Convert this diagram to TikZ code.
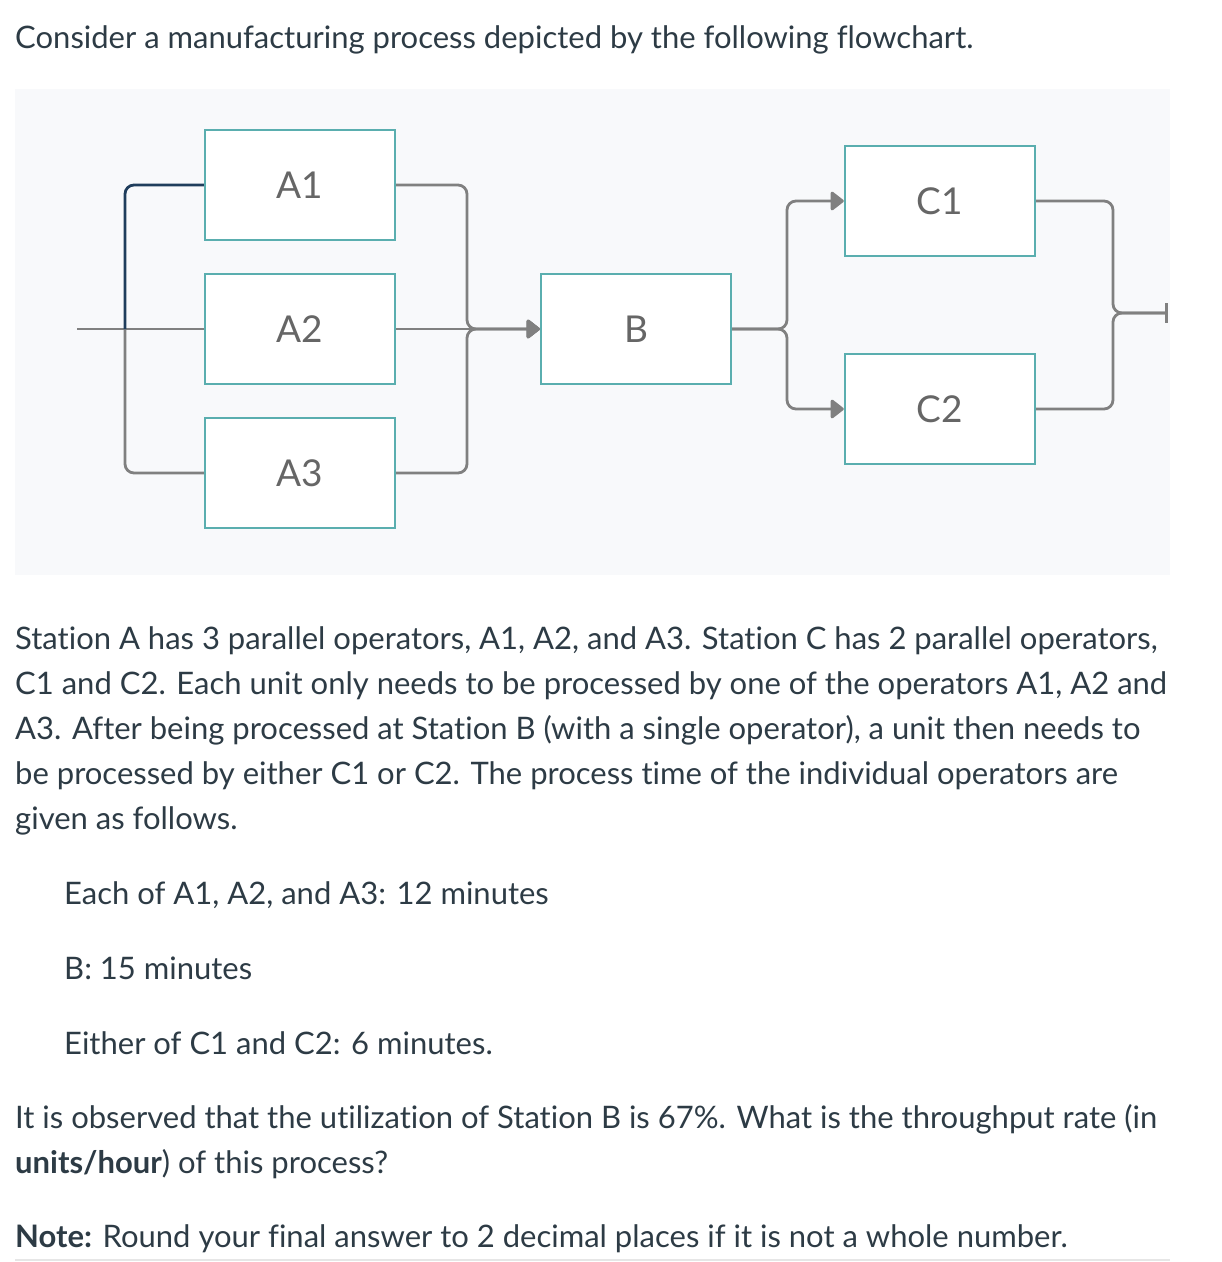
\documentclass[tikz,border=0pt]{standalone}
\usepackage{fontspec}
\setmainfont{Lato}[Ligatures=NoCommon]
\usetikzlibrary{positioning,calc,arrows.meta}
\definecolor{bodytext}{HTML}{2D3B45}
\definecolor{boxteal}{HTML}{5AAEAF}
\definecolor{linkgray}{HTML}{808080}
\definecolor{linknavy}{HTML}{1F3D5C}
\definecolor{canvasbg}{HTML}{F8F9FB}
\definecolor{rulegray}{HTML}{E6E6E6}
\tikzset{
  station/.style={rectangle,draw=boxteal,line width=2.4pt,fill=white,minimum width=190pt,minimum height=110pt,
                  inner sep=0,text=black!60,font=\fontsize{37}{40}\selectfont},
  link/.style={draw=linkgray,line width=2.8pt,rounded corners=9pt},
  feed/.style={link,-{Triangle[length=14pt,width=21pt,round]}},
  % the outgoing line stops with a short bar
  outlet/.style={link,-{Bar[width=20pt,line width=2.8pt]}},
  para/.style={anchor=base west,inner sep=0,text=bodytext,font=\fontsize{31}{45}\selectfont},
}

\begin{document}
\begin{tikzpicture}[x=1pt,y=-1pt]
  \useasboundingbox (0,0) rectangle (1222,1262);
  \node[para] (intro) at (15,48) {Consider a manufacturing process depicted by the following flowchart.};
  % flowchart panel
  \fill[canvasbg] (15,89) rectangle (1170,575);
  \node[station] (A1) at (300,185) {A1};
  \node[station] (A2) at (300,329) {A2};
  \node[station] (A3) at (300,473) {A3};
  \node[station] (B) at (636,329) {B};
  \node[station] (C1) at (940,201) {C1};
  \node[station] (C2) at (940,409) {C2};
  \coordinate (in) at (77,329);
  \coordinate (splitA) at (125,329);
  \coordinate (mergeA) at (467,329);
  \coordinate (splitC) at (787,329);
  \coordinate (mergeC) at (1113,313);
  \coordinate (out) at (1168,313);
  % station A: one of three operators
  \draw[link] (in) -- (A2.west);
  \draw[link] (splitA) |- (A3.west);
  \draw[link,draw=linknavy] (splitA) |- (A1.west);
  \draw[feed] (A1.east) -| (mergeA) -- (B.west);
  \draw[feed] (A3.east) -| (mergeA) -- (B.west);
  \draw[feed] (A2.east) -- (B.west);
  % station C: one of two operators
  \draw[feed] (B.east) -- (splitC) |- (C1.west);
  \draw[feed] (B.east) -- (splitC) |- (C2.west);
  \draw[outlet] (C1.east) -| (mergeC) -- (out);
  \draw[outlet] (C2.east) -| (mergeC) -- (out);
  % question text
  \node[para] (l1) at (15,649) {Station A has 3 parallel operators, A1, A2, and A3. Station C has 2 parallel operators,};
  \node[para] (l2) at (15,694) {C1 and C2. Each unit only needs to be processed by one of the operators A1, A2 and};
  \node[para] (l3) at (15,739) {A3. After being processed at Station B (with a single operator), a unit then needs to};
  \node[para] (l4) at (15,784) {be processed by either C1 or C2. The process time of the individual operators are};
  \node[para] (l5) at (15,829) {given as follows.};
  \node[para] (tA) at (64,904) {Each of A1, A2, and A3: 12 minutes};
  \node[para] (tB) at (64,979) {B: 15 minutes};
  \node[para] (tC) at (64,1054) {Either of C1 and C2: 6 minutes.};
  \node[para] (q1) at (15,1128) {It is observed that the utilization of Station B is 67\%. What is the throughput rate (in};
  \node[para] (q2) at (15,1173) {\textbf{units/hour}) of this process?};
  \node[para] (note) at (15,1247) {\textbf{Note:} Round your final answer to 2 decimal places if it is not a whole number.};
  \draw[rulegray,line width=1.5pt] (15,1260) -- (1170,1260);
\end{tikzpicture}
\end{document}
